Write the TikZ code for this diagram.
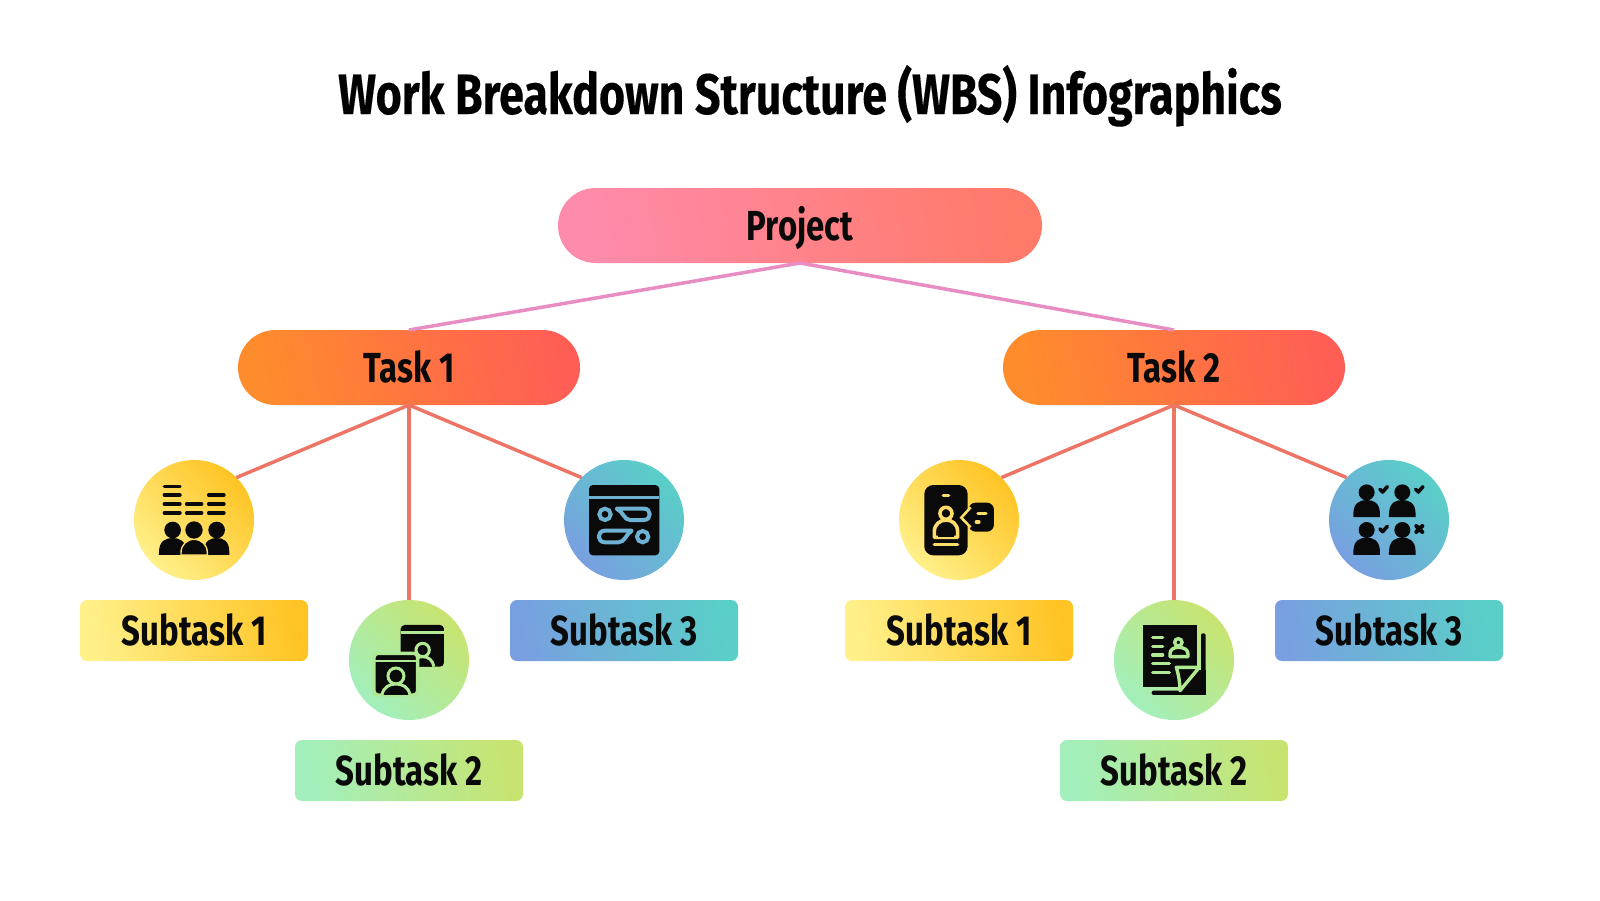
\documentclass[tikz,border=0pt]{standalone}
\usepackage{fontspec}
\setmainfont{Fira Sans}[FakeStretch=0.785]
\newfontfamily\titlefont{Fira Sans}[FakeStretch=0.785,BoldFeatures={FakeBold=0.25}]
\definecolor{yA}{HTML}{FFF08A}\definecolor{yB}{HTML}{FFC424}
\definecolor{gA}{HTML}{A2EFBC}\definecolor{gB}{HTML}{C8E470}
\definecolor{bA}{HTML}{78A0E0}\definecolor{bB}{HTML}{5ACFC8}
\definecolor{tA}{HTML}{FF8C2C}\definecolor{tB}{HTML}{FF5E55}
\definecolor{pA}{HTML}{FF8BAC}\definecolor{pB}{HTML}{FF7A68}
\definecolor{pinkline}{HTML}{E88CC4}\definecolor{coral}{HTML}{EC7565}
\definecolor{icY}{HTML}{FDDC6A}\definecolor{icG}{HTML}{B0E894}\definecolor{icB}{HTML}{6DB2D2}
\definecolor{ink}{HTML}{0A0A0A}
\tikzset{
 boxgrad/.style n args={2}{left color=#1,right color=#2,shading angle=100},
 circgrad/.style n args={2}{left color=#1,right color=#2,shading angle=135},
 pill/.style={rectangle,rounded corners=37.5pt,minimum height=75pt,inner sep=0pt,outer sep=0pt,font=\bfseries\fontsize{42}{42}\selectfont,text=ink,text height=34pt,text depth=5pt},
 subbox/.style={rectangle,rounded corners=7pt,minimum width=228pt,minimum height=61pt,inner sep=0pt,outer sep=0pt,font=\bfseries\fontsize{42}{42}\selectfont,text=ink,text height=34pt,text depth=5pt},
 disc/.style={circle,minimum size=120pt,inner sep=0pt,outer sep=0pt},
 linkP/.style={draw=pinkline,line width=3.5pt},
 linkT/.style={draw=coral,line width=3.5pt},
 zoomed/.style={shift={#1},x=0.3333pt,y=-0.3333pt},
}
% person: cx, head cy, head r, half width, bottom, body top
\newcommand{\persona}[6]{%
 \fill[ink] (#1,#2) circle (#3);
 \fill[ink] ({#1-#4},#5) -- ({#1-#4},{#5-8}) .. controls ({#1-#4},{#6+8}) and ({#1-#4*0.5},#6) .. (#1,#6)
   .. controls ({#1+#4*0.5},#6) and ({#1+#4},{#6+8}) .. ({#1+#4},{#5-8}) -- ({#1+#4},#5) -- cycle;}
\newcommand{\barline}[4][ink]{\draw[#1,line width=3.4pt,line cap=round] ({#2},#4) -- ({#3},#4);}
\newcommand{\chk}[2]{\draw[ink,line width=3.6pt,line cap=round,line join=round] ({#1-11},{#2}) -- ({#1-3},{#2+8}) -- ({#1+11},{#2-8});}
\begin{document}
\begin{tikzpicture}[x=1pt,y=-1pt]
\useasboundingbox (0,0) rectangle (1600,900);
\node[font=\titlefont\bfseries\fontsize{57}{57}\selectfont,text=black,inner sep=0pt,anchor=base] (title) at (810,114) {Work Breakdown Structure (WBS) Infographics};

\node[pill,boxgrad={pA}{pB},minimum width=484pt] (P) at (800,225.5) {Project};
\node[pill,boxgrad={tA}{tB},minimum width=342pt] (T1) at (409,367.5) {Task 1};
\node[pill,boxgrad={tA}{tB},minimum width=342pt] (T2) at (1174,367.5) {Task 2};

\node[disc,circgrad={yA}{yB}] (c1) at (194,520) {};
\node[disc,circgrad={gA}{gB}] (c2) at (409,660) {};
\node[disc,circgrad={bA}{bB}] (c3) at (624,520) {};
\node[disc,circgrad={yA}{yB}] (c4) at (959,520) {};
\node[disc,circgrad={gA}{gB}] (c5) at (1174,660) {};
\node[disc,circgrad={bA}{bB}] (c6) at (1389,520) {};

\node[subbox,boxgrad={yA}{yB}] (s1) at (194,630.5) {Subtask 1};
\node[subbox,boxgrad={gA}{gB}] (s2) at (409,770.5) {Subtask 2};
\node[subbox,boxgrad={bA}{bB}] (s3) at (624,630.5) {Subtask 3};
\node[subbox,boxgrad={yA}{yB}] (s4) at (959,630.5) {Subtask 1};
\node[subbox,boxgrad={gA}{gB}] (s5) at (1174,770.5) {Subtask 2};
\node[subbox,boxgrad={bA}{bB}] (s6) at (1389,630.5) {Subtask 3};

\draw[linkP] (P.south) -- (T1.north);
\draw[linkP] (P.south) -- (T2.north);
\draw[linkT] (T1.south) -- (c1.45);
\draw[linkT] (T1.south) -- (c2.north);
\draw[linkT] (T1.south) -- (c3.135);
\draw[linkT] (T2.south) -- (c4.45);
\draw[linkT] (T2.south) -- (c5.north);
\draw[linkT] (T2.south) -- (c6.135);

% icon 1: audience with level bars
\begin{scope}[zoomed={(120,450)}]
 \foreach \yy in {110,135,162,189} {\barline{133}{180}{\yy}}
 \foreach \yy in {162,189} {\barline{200}{245}{\yy}}
 \foreach \yy in {135,162,189} {\barline{266}{312}{\yy}}
 \persona{158}{240}{25}{41}{315}{264}
 \persona{290}{240}{25}{38}{315}{264}
 \draw[icY,line width=1.4pt,fill=ink] (183,315) -- (183,308) .. controls (183,285) and (200,268) .. (222,268) .. controls (245,268) and (262,285) .. (262,308) -- (262,315) -- cycle;
 \fill[ink] (222,240) circle (26);
\end{scope}

% icon 2: two profile windows
\begin{scope}[zoomed={(120,450)}]
 \fill[ink,rounded corners=4pt] (842,525) rectangle (972,650);
 \draw[icG,line width=2.6pt] (842,548) -- (972,548);
 \draw[icG,line width=3pt,fill=ink] (908,600) circle (20);
 \draw[icG,line width=3pt,fill=ink] (880,650) .. controls (882,625) and (895,620) .. (908,620) .. controls (925,620) and (938,630) .. (942,650);
 \draw[icG,line width=3.4pt,fill=ink,rounded corners=4pt] (762,610) rectangle (893,735);
 \draw[icG,line width=2.6pt] (762,633) -- (893,633);
 \draw[icG,line width=3pt,fill=ink] (828,678) circle (24);
 \draw[icG,line width=3pt,fill=ink] (786,735) .. controls (790,712) and (808,702) .. (828,702) .. controls (848,702) and (866,712) .. (870,735);
 \draw[icG,line width=1pt] (762,737) -- (893,737);
\end{scope}

% icon 3: settings window
\begin{scope}[zoomed={(550,450)}]
 \fill[ink,rounded corners=4pt] (117,105) rectangle (328,316);
 \draw[icB,line width=3.4pt] (117,143) -- (328,143);
 \draw[icB,line width=4pt] (165,193) circle (17);
 \draw[icB,line width=4pt] (278,260) circle (17);
 \draw[icB,line width=4pt,line join=round] (200,176) -- (282,176) .. controls (305,176) and (305,210) .. (282,210) -- (240,210) .. controls (222,210) and (220,185) .. (200,176) -- cycle;
 \draw[icB,line width=4pt,line join=round] (245,242) -- (165,242) .. controls (140,242) and (140,277) .. (165,277) -- (205,277) .. controls (225,277) and (228,252) .. (245,242) -- cycle;
\end{scope}

% icon 4: phone with chat
\begin{scope}[zoomed={(550,450)}]
 \fill[ink,rounded corners=9pt] (1123,105) rectangle (1253,316);
 \draw[icY,line width=3.4pt,line cap=round] (1180,136) -- (1196,136);
 \draw[icY,line width=3.6pt] (1188,190) circle (18);
 \draw[icY,line width=3.6pt,line join=round] (1153,262) -- (1153,245) .. controls (1153,222) and (1172,210) .. (1188,210) .. controls (1206,210) and (1223,222) .. (1223,245) -- (1223,262) -- cycle;
 \fill[ink] (1165,262) rectangle (1211,240);
 \barline[icY]{1153}{1223}{283}
 \fill[ink,rounded corners=7pt] (1256,158) rectangle (1332,245);
 \fill[ink] (1262,175) -- (1236,203) -- (1262,230) -- cycle;
 \draw[icY,line width=2.6pt] (1262,172) -- (1234,203) -- (1262,232);
 \barline[icY]{1284}{1308}{190}
 \barline[icY]{1279}{1287}{216}
\end{scope}

% icon 5: document with profile
\begin{scope}[zoomed={(1100,450)}]
 \fill[ink,rounded corners=2pt] (303,550) -- (317,550) -- (317,735) -- (155,735) -- (155,722) -- (303,722) -- cycle;
 \fill[ink] (128,525) rectangle (292,710);
 \fill[ink] (240,660) rectangle (317,735);
 \foreach \yy in {563,590,615} {\barline[icG]{158}{188}{\yy}}
 \foreach \yy in {640,668} {\barline[icG]{158}{208}{\yy}}
 \draw[icG,line width=3.4pt] (235,577) circle (11);
 \draw[icG,line width=3.4pt,line join=round] (210,620) -- (210,612) .. controls (210,598) and (222,592) .. (235,592) .. controls (250,592) and (264,598) .. (264,612) -- (264,620) -- cycle;
 \draw[icG,line width=3.4pt,line join=round,fill=ink] (229,652) -- (298,652) -- (240,722) .. controls (240,700) and (236,675) .. (229,652) -- cycle;
\end{scope}

% icon 6: assessed people
\begin{scope}[zoomed={(1100,450)}]
 \persona{800}{127}{24}{40}{201}{150}
 \persona{907}{127}{24}{40}{201}{150}
 \persona{800}{240}{24}{40}{315}{263}
 \persona{907}{240}{24}{40}{315}{263}
 \chk{851}{118}
 \chk{958}{118}
 \chk{851}{237}
 \draw[ink,line width=4pt,line cap=round] (949,228) -- (967,246) (967,228) -- (949,246);
\end{scope}
\end{tikzpicture}
\end{document}
